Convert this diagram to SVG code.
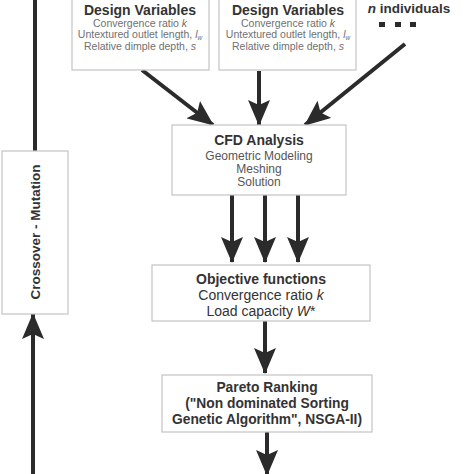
<svg xmlns="http://www.w3.org/2000/svg" width="474" height="474" viewBox="0 0 474 474">
<style>
.box{fill:#fff;stroke:#c4c4c4;stroke-width:1.2}
.ln{stroke:#2b2b2b;stroke-width:4;fill:none}
.t{font-family:"Liberation Sans",Arial,sans-serif;text-anchor:middle;fill:#333}
.b{font-weight:bold}
.s{fill:#707070;font-size:10.5px}
.m{fill:#555;font-size:12px}
</style>
<defs>
<marker id="ah" viewBox="0 0 26 22" refX="25" refY="11" markerWidth="26" markerHeight="22" markerUnits="userSpaceOnUse" orient="auto">
<path d="M0,0 L26,11 L0,22 L5,11 Z" fill="#2b2b2b"/>
</marker>
</defs>
<rect width="474" height="474" fill="#fff"/>
<g id="connectors">
<line class="ln" x1="35" y1="0" x2="35" y2="151"/>
<line class="ln" x1="33" y1="474" x2="33" y2="314" marker-end="url(#ah)"/>
<line class="ln" x1="142" y1="70" x2="213" y2="125" marker-end="url(#ah)"/>
<line class="ln" x1="259" y1="71" x2="259" y2="125" marker-end="url(#ah)"/>
<line class="ln" x1="405" y1="44" x2="305" y2="125" marker-end="url(#ah)"/>
<line class="ln" x1="232" y1="195" x2="232" y2="262" marker-end="url(#ah)"/>
<line class="ln" x1="265" y1="195" x2="265" y2="262" marker-end="url(#ah)"/>
<line class="ln" x1="298" y1="195" x2="298" y2="262" marker-end="url(#ah)"/>
<line class="ln" x1="265" y1="321" x2="265" y2="373" marker-end="url(#ah)"/>
<line class="ln" x1="267" y1="432" x2="267" y2="475" marker-end="url(#ah)"/>
</g>
<g id="crossover">
<rect class="box" x="2" y="151" width="66" height="163"/>
<text class="t b" font-size="13.5" transform="translate(40,232) rotate(-90)">Crossover - Mutation</text>
</g>
<g id="design1">
<rect class="box" x="72" y="-5" width="137" height="75"/>
<text class="t b" x="140" y="15" font-size="14">Design Variables</text>
<text class="t s" x="140" y="27">Convergence ratio <tspan font-style="italic">k</tspan></text>
<text class="t s" x="140" y="38">Untextured outlet length, <tspan font-style="italic">l</tspan><tspan font-style="italic" font-size="6.5" dy="2">w</tspan></text>
<text class="t s" x="140" y="50">Relative dimple depth, <tspan font-style="italic">s</tspan></text>
</g>
<g id="design2">
<rect class="box" x="219" y="-5" width="137" height="75"/>
<text class="t b" x="288" y="15" font-size="14">Design Variables</text>
<text class="t s" x="288" y="27">Convergence ratio <tspan font-style="italic">k</tspan></text>
<text class="t s" x="288" y="38">Untextured outlet length, <tspan font-style="italic">l</tspan><tspan font-style="italic" font-size="6.5" dy="2">w</tspan></text>
<text class="t s" x="288" y="50">Relative dimple depth, <tspan font-style="italic">s</tspan></text>
</g>
<g id="individuals">
<text class="t b" x="409" y="12.5" font-size="13.5"><tspan font-style="italic">n</tspan> individuals</text>
<rect x="379" y="22" width="6" height="5" fill="#2b2b2b"/>
<rect x="395" y="22" width="6" height="5" fill="#2b2b2b"/>
<rect x="410" y="22" width="6" height="5" fill="#2b2b2b"/>
</g>
<g id="cfd">
<rect class="box" x="172" y="125" width="174" height="70"/>
<text class="t b" x="259" y="145" font-size="14">CFD Analysis</text>
<text class="t m" x="259" y="160">Geometric Modeling</text>
<text class="t m" x="259" y="173">Meshing</text>
<text class="t m" x="259" y="186">Solution</text>
</g>
<g id="objective">
<rect class="box" x="152" y="265" width="218" height="56"/>
<text class="t b" x="261" y="284" font-size="14">Objective functions</text>
<text class="t" x="261" y="300" font-size="14" fill="#444">Convergence ratio <tspan font-style="italic">k</tspan></text>
<text class="t" x="261" y="316" font-size="14" fill="#444">Load capacity <tspan font-style="italic">W</tspan>*</text>
</g>
<g id="pareto">
<rect class="box" x="162" y="375" width="210" height="57"/>
<text class="t b" x="267" y="392" font-size="13.8">Pareto Ranking</text>
<text class="t b" x="267" y="408" font-size="13.8">("Non dominated Sorting</text>
<text class="t b" x="267" y="424" font-size="13.8">Genetic Algorithm", NSGA-II)</text>
</g>
</svg>
